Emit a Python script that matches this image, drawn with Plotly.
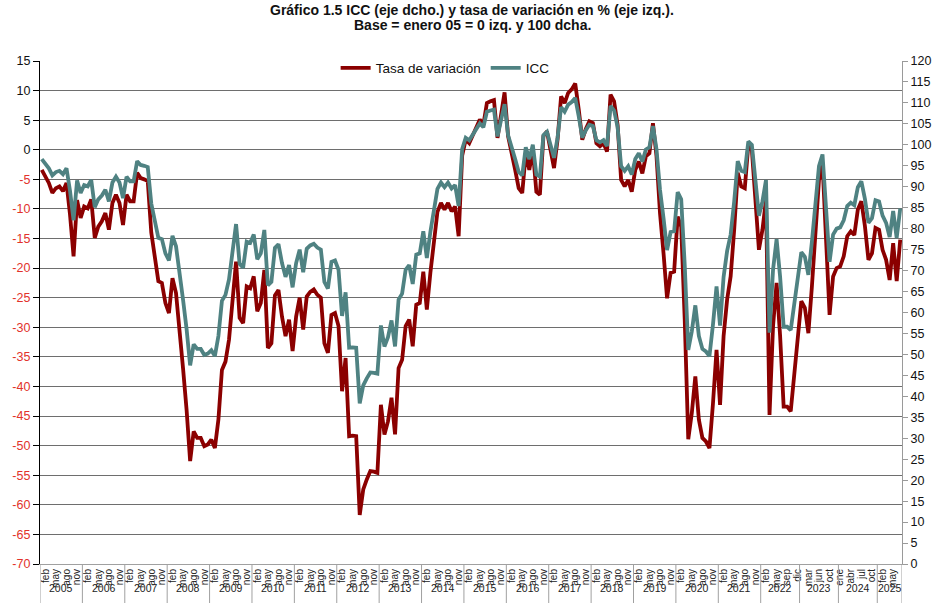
import plotly.graph_objects as go

# ---------------- data ----------------
year_list = list(range(2005, 2026))
month_abbr = ["ene", "feb", "mar", "abr", "may", "jun", "jul", "ago", "sep", "oct", "nov", "dic"]
# months absent from the series (category axis skips them)
missing = {2022: ["ago"], 2023: ["ago"], 2024: ["dic"]}
last_month_2025 = "jul"

tasa = [
    -3.4, -4.5, -5.6, -7.3, -6.5, -6.2, -7.0, -5.6, -11.0, -18.0, -8.5, -11.5,
    -9.6, -9.9, -8.4, -14.9, -13.0, -12.1, -10.7, -13.5, -9.0, -7.6, -9.0, -12.7,
    -7.6, -8.7, -8.7, -3.9, -4.8, -5.0, -5.3, -14.0, -18.6, -22.2, -22.5, -25.9,
    -27.6, -21.7, -24.2, -30.0, -37.0, -44.0, -52.6, -47.6, -48.7, -48.7, -50.1, -49.8,
    -49.0, -50.4, -45.6, -37.2, -35.8, -32.1, -24.8, -18.9, -28.4, -29.3, -23.1, -23.4,
    -21.4, -27.3, -25.9, -20.3, -33.5, -32.7, -24.6, -23.7, -28.2, -31.5, -28.7, -34.0,
    -28.2, -25.0, -30.4, -24.8, -24.0, -23.6, -24.5, -25.0, -32.7, -34.3, -27.9, -27.6,
    -29.8, -40.8, -35.2, -48.4, -48.3, -48.4, -61.7, -57.4, -55.7, -54.3, -54.4, -54.6,
    -43.1, -48.1, -45.9, -41.9, -48.1, -36.9, -35.5, -29.8, -28.7, -33.2, -26.2, -25.9,
    -20.6, -27.0, -20.8, -15.2, -10.5, -9.0, -10.1, -9.0, -10.4, -9.6, -14.6, -1.0,
    1.7, 1.1, 2.5, 4.0, 5.1, 4.2, 7.9, 8.2, 8.4, 2.0, 6.2, 9.7,
    2.3, -1.0, -3.4, -6.5, -7.3, -0.6, -3.4, 0.0, -7.1, -7.6, 2.3, 3.1,
    0.0, -3.1, 1.7, 9.0, 7.9, 9.6, 10.2, 11.2, 6.8, 1.7, 3.5, 4.8,
    4.5, 1.1, 0.6, 1.1, -0.3, 9.3, 8.2, 4.2, -5.1, -6.2, -5.1, -7.1,
    -3.4, -2.0, -4.0, -1.1, -0.6, 4.5, -1.0, -10.7, -17.5, -25.1, -20.8, -20.6,
    -11.3, -13.0, -28.7, -48.9, -44.5, -38.3, -45.6, -48.7, -49.3, -50.4, -42.8, -33.8,
    -43.1, -31.5, -25.3, -21.4, -13.5, -3.9, -6.2, -6.5, 0.8, 0.0, -8.4, -16.9,
    -13.5, -8.4, -44.8, -29.8, -22.5, -31.5, -43.4, -43.4, -44.2, -38.3, -31.5,
    -25.6, -26.7, -31.0, -23.1, -13.5, -5.1, -2.3, -16.3, -27.9, -21.4, -20.0,
    -19.7, -18.0, -14.6, -13.8, -14.4, -10.1, -8.7, -12.9, -18.6, -17.5, -13.2,
    -13.5, -16.9, -18.6, -22.0, -15.8, -22.2, -15.2,
]

icc = [
    96.6, 95.5, 94.4, 92.7, 93.5, 93.8, 93.0, 94.4, 89.0, 82.0, 91.5, 88.5,
    90.4, 90.1, 91.6, 85.1, 87.0, 87.9, 89.3, 86.5, 91.0, 92.4, 91.0, 87.3,
    92.4, 91.3, 91.3, 96.1, 95.2, 95.0, 94.7, 86.0, 81.4, 77.8, 77.5, 74.1,
    72.4, 78.3, 75.8, 70.0, 63.0, 56.0, 47.4, 52.4, 51.3, 51.3, 49.9, 50.2,
    51.0, 49.6, 54.4, 62.8, 64.2, 67.9, 75.2, 81.1, 71.6, 70.7, 76.9, 76.6,
    78.6, 72.7, 74.1, 79.7, 66.5, 67.3, 75.4, 76.3, 71.8, 68.5, 71.3, 66.0,
    71.8, 75.0, 69.6, 75.2, 76.0, 76.4, 75.5, 75.0, 67.3, 65.7, 72.1, 72.4,
    70.2, 59.2, 64.8, 51.6, 51.7, 51.6, 38.3, 42.6, 44.3, 45.7, 45.6, 45.4,
    56.9, 51.9, 54.1, 58.1, 51.9, 63.1, 64.5, 70.2, 71.3, 66.8, 73.8, 74.1,
    79.4, 73.0, 79.2, 84.8, 89.5, 91.0, 89.9, 91.0, 89.6, 90.4, 85.4, 99.0,
    101.7, 101.1, 102.5, 104.0, 105.1, 104.2, 107.9, 108.2, 108.4, 102.0, 106.2, 109.7,
    102.3, 99.0, 96.6, 93.5, 92.7, 99.4, 96.6, 100.0, 92.9, 92.4, 102.3, 103.1,
    100.0, 96.9, 101.7, 109.0, 107.9, 109.6, 110.2, 111.2, 106.8, 101.7, 103.5, 104.8,
    104.5, 101.1, 100.6, 101.1, 99.7, 109.3, 108.2, 104.2, 94.9, 93.8, 94.9, 92.9,
    96.6, 98.0, 96.0, 98.9, 99.4, 104.5, 99.0, 89.3, 82.5, 74.9, 79.2, 79.4,
    88.7, 87.0, 71.3, 51.1, 55.5, 61.7, 54.4, 51.3, 50.7, 49.6, 57.2, 66.2,
    56.9, 68.5, 74.7, 78.6, 86.5, 96.1, 93.8, 93.5, 100.8, 100.0, 91.6, 83.1,
    86.5, 91.6, 55.2, 70.2, 77.5, 68.5, 56.6, 56.6, 55.8, 61.7, 68.5,
    74.4, 73.3, 69.0, 76.9, 86.5, 94.9, 97.7, 83.7, 72.1, 78.6, 80.0,
    80.3, 82.0, 85.4, 86.2, 85.6, 89.9, 91.3, 87.1, 81.4, 82.5, 86.8,
    86.5, 83.1, 81.4, 78.0, 84.2, 77.8, 84.8,
]

left_ticks = list(range(-70, 20, 5))
right_ticks = list(range(0, 125, 5))
title_lines = ["Gráfico 1.5 ICC (eje dcho.) y tasa de variación en % (eje izq.).",
               "Base = enero 05 = 0 izq. y 100 dcha."]

# ---------------- build category list ----------------
periods = []
for y in year_list:
    for m in month_abbr:
        if m in missing.get(y, []):
            continue
        periods.append((y, m))
        if y == 2025 and m == last_month_2025:
            break
n = min(len(periods), len(tasa), len(icc))
periods = periods[:n]
xs = list(range(n))

tick_idx = [i for i in xs if i % 3 == 1]
tick_txt = [periods[i][1] for i in tick_idx]

FONT = "Liberation Sans, Arial, sans-serif"
RED = "#8B0000"
TEAL = "#4F8282"
NEG = "#E2322B"

fig = go.Figure()
fig.add_trace(go.Scatter(x=xs, y=tasa[:n], name="Tasa de variación", mode="lines",
                         line=dict(color=RED, width=3.8), yaxis="y"))
fig.add_trace(go.Scatter(x=xs, y=icc[:n], name="ICC", mode="lines",
                         line=dict(color=TEAL, width=3.8), yaxis="y2"))

left_text = [(f'<span style="color:{NEG}">{v}</span>' if v < 0 else str(v)) for v in left_ticks]

# year boxes below the month labels
shapes = []
annotations = []
year_bounds = {}
for i, (y, m) in enumerate(periods):
    year_bounds.setdefault(y, [i, i])
    year_bounds[y][1] = i
for y, (a, b) in year_bounds.items():
    shapes.append(dict(type="line", xref="x", yref="paper", x0=a - 0.5, x1=a - 0.5,
                       y0=0, y1=-0.078, line=dict(color="#A0A0A0", width=1)))
    annotations.append(dict(xref="x", yref="paper", x=(a + b) / 2, y=-0.048,
                            text=str(y), showarrow=False, yanchor="middle",
                            font=dict(family=FONT, size=10.5, color="#222")))
last = year_bounds[year_list[-1]][1]
shapes.append(dict(type="line", xref="x", yref="paper", x0=last + 0.5, x1=last + 0.5,
                   y0=0, y1=-0.078, line=dict(color="#A0A0A0", width=1)))

# title as two centred lines
for k, (txt, ypos) in enumerate(zip(title_lines, [1.1014, 1.0716])):
    annotations.append(dict(xref="paper", yref="paper", x=(471.5 - 37) / 866, y=ypos,
                            text=f"<b>{txt}</b>", showarrow=False, xanchor="center",
                            yanchor="middle",
                            font=dict(family=FONT, size=14, color="#111")))

fig.update_layout(
    width=943, height=603,
    margin=dict(l=37, r=40, t=61, b=39),
    paper_bgcolor="white", plot_bgcolor="white",
    font=dict(family=FONT, size=12, color="#111"),
    showlegend=True,
    legend=dict(orientation="h", x=0.47, xanchor="center", y=0.986, yanchor="middle",
                bgcolor="white", font=dict(family=FONT, size=13.5, color="#111"),
                itemwidth=30, tracegroupgap=0),
    xaxis=dict(range=[-0.5, n - 0.5], tickmode="array", tickvals=tick_idx, ticktext=tick_txt,
               tickangle=-90, tickfont=dict(family=FONT, size=10, color="#222"),
               showgrid=False, zeroline=False, showline=True, linecolor="#A0A0A0",
               linewidth=1, ticks="", fixedrange=True),
    yaxis=dict(range=[-70, 15], tickmode="array", tickvals=left_ticks, ticktext=left_text,
               showgrid=True, gridcolor="#6E6E6E", gridwidth=1, zeroline=False,
               showline=True, linecolor="#000", linewidth=1.2, ticks="outside",
               ticklen=6, tickcolor="#000", tickfont=dict(family=FONT, size=12.5, color="#111")),
    yaxis2=dict(range=[0, 120], tickmode="array", tickvals=right_ticks,
                overlaying="y", side="right", showgrid=False, zeroline=False,
                showline=True, linecolor="#9A9A9A", linewidth=1, ticks="outside",
                ticklen=5, tickcolor="#9A9A9A", tickfont=dict(family=FONT, size=12.5, color="#111")),
    shapes=shapes,
    annotations=annotations,
)

fig.write_html("out.html")
